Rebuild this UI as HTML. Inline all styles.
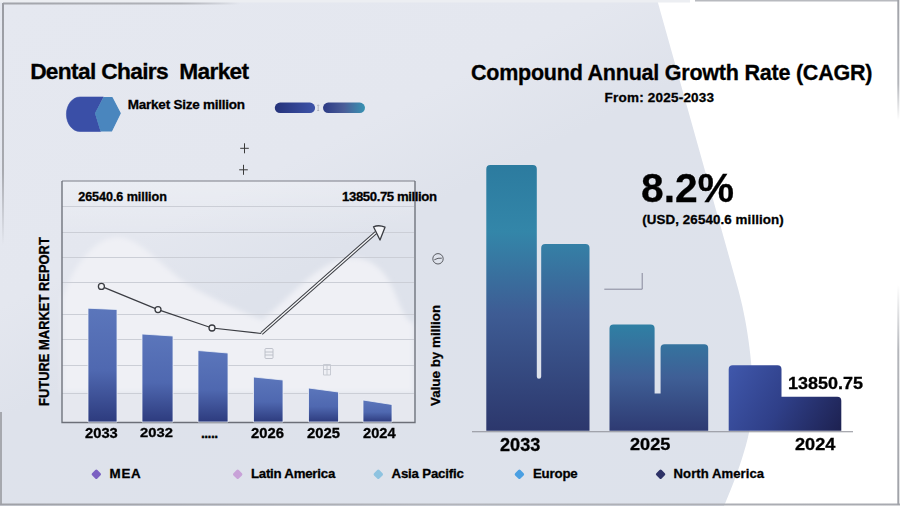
<!DOCTYPE html>
<html><head><meta charset="utf-8">
<style>
html,body{margin:0;padding:0;}
body{width:900px;height:506px;overflow:hidden;position:relative;background:linear-gradient(153.4deg,#e5e8f0 0%,#e4e7ef 32%,#dee2eb 44%,#dde2eb 100%);font-family:"Liberation Sans",sans-serif;color:#000;}
.t{position:absolute;white-space:nowrap;font-weight:bold;line-height:1;transform-origin:0 0;-webkit-text-stroke:0.3px #000;}
svg{position:absolute;left:0;top:0;}
</style></head>
<body>
<svg width="900" height="506" viewBox="0 0 900 506">
  <defs>
    <linearGradient id="topfade" x1="0" y1="0" x2="0" y2="1"><stop offset="0" stop-color="#fff" stop-opacity="0.25"/><stop offset="1" stop-color="#fff" stop-opacity="0"/></linearGradient>
    <filter id="bl" x="-5%" y="-5%" width="110%" height="110%"><feGaussianBlur stdDeviation="2.5"/></filter>
    <linearGradient id="lb" x1="0" y1="0" x2="0" y2="1">
      <stop offset="0" stop-color="#5b76bb"/>
      <stop offset="0.55" stop-color="#4f68b0"/>
      <stop offset="1" stop-color="#2d3b7e"/>
    </linearGradient>
    <linearGradient id="rb1" gradientUnits="userSpaceOnUse" x1="0" y1="165" x2="0" y2="431">
      <stop offset="0" stop-color="#2c7b9f"/>
      <stop offset="0.25" stop-color="#3386a9"/>
      <stop offset="0.56" stop-color="#3e5c94"/>
      <stop offset="1" stop-color="#2c376c"/>
    </linearGradient>
    <linearGradient id="rb2" gradientUnits="userSpaceOnUse" x1="0" y1="324" x2="0" y2="431">
      <stop offset="0" stop-color="#2f80a4"/>
      <stop offset="0.5" stop-color="#3f5f96"/>
      <stop offset="1" stop-color="#2e3a72"/>
    </linearGradient>
    <linearGradient id="rb3" gradientUnits="userSpaceOnUse" x1="729" y1="365" x2="841" y2="431">
      <stop offset="0" stop-color="#4058ac"/>
      <stop offset="0.5" stop-color="#2f3f88"/>
      <stop offset="1" stop-color="#1d2150"/>
    </linearGradient>
    <linearGradient id="p1" x1="0" y1="0" x2="1" y2="0">
      <stop offset="0" stop-color="#25327a"/>
      <stop offset="1" stop-color="#3d53a8"/>
    </linearGradient>
    <linearGradient id="p2" x1="0" y1="0" x2="1" y2="0">
      <stop offset="0" stop-color="#2c3a84"/>
      <stop offset="0.5" stop-color="#4a5d98"/>
      <stop offset="1" stop-color="#3793b2"/>
    </linearGradient>
  </defs>
  <!-- white right region -->
  <path d="M657.2,0 L738.4,290 C746,318 753,360 753,400 C753,425 744,460 724,506 L900,506 L900,0 Z" fill="#ffffff"/>
  <!-- chart box interior: light blob -->
  <path filter="url(#bl)" d="M62,300 C70,272 92,238 117,237 C142,237 165,272 195,289 C218,301 242,312 262,320 C288,300 312,268 340,260 C365,253 385,265 397,298 C403,314 408,322 414,324 L414,393 L62,393 Z" fill="#eff0f5"/>
  <rect x="62" y="393" width="352" height="29" fill="#e6e8ef"/>
  <rect x="62" y="181" width="353" height="60" fill="url(#topfade)"/>
  <!-- gridlines -->
  <g stroke="#cbced6" stroke-width="1">
    <line x1="62" y1="206.5" x2="414" y2="206.5"/>
    <line x1="62" y1="232.5" x2="414" y2="232.5"/>
    <line x1="62" y1="257.5" x2="414" y2="257.5"/>
    <line x1="62" y1="282.5" x2="414" y2="282.5"/>
    <line x1="62" y1="314.5" x2="414" y2="314.5"/>
    <line x1="62" y1="339.5" x2="414" y2="339.5"/>
    <line x1="62" y1="365.5" x2="414" y2="365.5"/>
    <line x1="62" y1="393.5" x2="414" y2="393.5"/>
  </g>
  <!-- chart box -->
  <path d="M62,181 L415,181" stroke="#7c7f87" stroke-width="1.1" fill="none"/>
  <path d="M62,181 L62,422.5 L415,422.5 L415,181" stroke="#6c6f78" stroke-width="1.35" fill="none"/>
  <!-- left bars -->
  <g fill="url(#lb)" stroke="#eef1f8" stroke-width="0.8">
    <path d="M88,308.2 L117,309.5 L117,422 L88,422 Z"/>
    <path d="M142,334 L173,336 L173,422 L142,422 Z"/>
    <path d="M198,350.5 L228,353 L228,422 L198,422 Z"/>
    <path d="M253.5,377 L283,380 L283,422 L253.5,422 Z"/>
    <path d="M308.5,388 L338.5,392 L338.5,422 L308.5,422 Z"/>
    <path d="M363,400 L392,404.5 L392,422 L363,422 Z"/>
  </g>
  <!-- faint icons -->
  <g stroke="#b9bcc6" stroke-width="0.9" fill="none">
    <rect x="265" y="348.5" width="8" height="10" rx="1"/>
    <line x1="265" y1="352" x2="273" y2="352"/>
    <line x1="265" y1="355" x2="273" y2="355"/>
    <path d="M323.5,364.5 L330.5,364.5 L330.5,375 L323.5,375 Z M323.5,369.5 L330.5,369.5 M327,364.5 L327,375" stroke="#c3c6cf"/>
  </g>
  <!-- line -->
  <polyline points="101.4,286.4 158,309.6 212,328 261,333.5" fill="none" stroke="#3a3c42" stroke-width="1.2"/>
  <g fill="#f4f5f8" stroke="#3a3c42" stroke-width="1.3">
    <circle cx="101.4" cy="286.4" r="3"/>
    <circle cx="158" cy="309.6" r="3"/>
    <circle cx="212" cy="328" r="3"/>
  </g>
  <!-- arrow double line -->
  <line x1="261.5" y1="333.5" x2="376" y2="232.5" stroke="#3a3c42" stroke-width="3.4"/>
  <line x1="261.5" y1="333.5" x2="376" y2="232.5" stroke="#f6f7f9" stroke-width="1.4"/>
  <path d="M373.5,226.8 Q379,224.5 385,227.2 L380,240 Z" fill="#f4f5f8" stroke="#3a3c42" stroke-width="1.3" stroke-linejoin="round"/>
  <!-- plus signs -->
  <g stroke="#3a3a3a" stroke-width="1">
    <line x1="240.2" y1="148.3" x2="248.8" y2="148.3"/>
    <line x1="244.5" y1="143.3" x2="244.5" y2="153.3"/>
    <line x1="239.2" y1="169.8" x2="247.8" y2="169.8"/>
    <line x1="243.5" y1="164.8" x2="243.5" y2="174.8"/>
  </g>
  <!-- circle icon -->
  <circle cx="438" cy="258.8" r="5.2" fill="none" stroke="#5a5c62" stroke-width="1"/>
  <path d="M434.3,259.8 Q438,257.6 441.8,258.2" fill="none" stroke="#5a5c62" stroke-width="1"/>
  <!-- market size icon -->
  <path d="M80,97 L103.5,97 L95.1,113.2 L100.6,131.5 L80,131.5 C72.5,131.5 66.4,123.75 66.4,114.25 C66.4,104.75 72.5,97 80,97 Z" fill="#3a4fa7" stroke="#3a4fa7" stroke-width="0.6" stroke-linejoin="round"/>
  <path d="M104,97.6 L112,97.6 L120.2,113.2 L111.5,130.9 L101,130.9 L95.6,113.2 Z" fill="#4a86be" stroke="#4a86be" stroke-width="1.2" stroke-linejoin="round"/>
  <!-- pills -->
  <rect x="274.8" y="102.6" width="40.3" height="10.5" rx="5.25" fill="url(#p1)"/>
  <rect x="323" y="102.6" width="42" height="10.5" rx="5.25" fill="url(#p2)"/>
  <path d="M318.2,104.8 L318.2,111 M317.2,105.8 L318.2,104.8 L319.2,105.8 M317.2,110 L318.2,111 L319.2,110" stroke="#9a9caa" stroke-width="0.6" fill="none"/>
  <!-- right bars -->
  <path d="M486.3,430.8 L486.3,169 Q486.3,165 490.3,165 L532.8,165 Q536.8,165 536.8,169 L536.8,376.5 A2.2,2.2 0 0 0 541.2,376.5 L541.2,248 Q541.2,244 545.2,244 L585.5,244 Q589.5,244 589.5,248 L589.5,430.8 Z" fill="url(#rb1)"/>
  <path d="M609.5,430.8 L609.5,328.5 Q609.5,324.5 613.5,324.5 L650.6,324.5 Q654.6,324.5 654.6,328.5 L654.6,393.5 L660.6,393.5 L660.6,348.3 Q660.6,344.3 664.6,344.3 L704.2,344.3 Q708.2,344.3 708.2,348.3 L708.2,430.8 Z" fill="url(#rb2)"/>
  <path d="M728.7,430.8 L728.7,369.2 Q728.7,365.2 732.7,365.2 L777.5,365.2 Q781.5,365.2 781.5,369.2 L781.5,396.7 L837.3,396.7 Q841.3,396.7 841.3,400.7 L841.3,430.8 Z" fill="url(#rb3)"/>
  <!-- right axis -->
  <line x1="472" y1="431.8" x2="853" y2="431.8" stroke="#8c8e96" stroke-width="1.1"/>
  <!-- bracket line -->
  <path d="M604.3,289.2 L642.2,289.2 L642.2,273" fill="none" stroke="#86879a" stroke-width="1"/>
  <!-- legend diamonds -->
  <g>
    <rect x="92.6" y="470.5" width="7.5" height="7.5" rx="1.5" transform="rotate(45 96.4 474.2)" fill="#7b60c2"/>
    <rect x="233.9" y="470.6" width="7.5" height="7.5" rx="1.5" transform="rotate(45 237.7 474.4)" fill="#c8a2d8"/>
    <rect x="374.5" y="470.6" width="7.5" height="7.5" rx="1.5" transform="rotate(45 378.3 474.4)" fill="#8ec3e0"/>
    <rect x="515.6" y="470.6" width="7.5" height="7.5" rx="1.5" transform="rotate(45 519.4 474.4)" fill="#4a9fe2"/>
    <rect x="656.8" y="470.5" width="7.5" height="7.5" rx="1.5" transform="rotate(45 660.6 474.3)" fill="#2e3267"/>
  </g>
  <!-- frame -->
  <defs>
    <linearGradient id="ft" gradientUnits="userSpaceOnUse" x1="3" y1="0" x2="240" y2="0"><stop offset="0" stop-color="#a2a4aa"/><stop offset="0.75" stop-color="#b2b4ba"/><stop offset="1" stop-color="#a4a6ad" stop-opacity="0"/></linearGradient>
    <linearGradient id="fl" gradientUnits="userSpaceOnUse" x1="0" y1="3" x2="0" y2="245"><stop offset="0" stop-color="#9a9ca3"/><stop offset="0.7" stop-color="#a8aab0"/><stop offset="1" stop-color="#a8aab0" stop-opacity="0"/></linearGradient>
    <linearGradient id="fr1" gradientUnits="userSpaceOnUse" x1="0" y1="0" x2="0" y2="120"><stop offset="0" stop-color="#a0a2a8"/><stop offset="0.7" stop-color="#b4b6bb"/><stop offset="1" stop-color="#b4b6bb" stop-opacity="0"/></linearGradient>
    <linearGradient id="fr2" gradientUnits="userSpaceOnUse" x1="0" y1="285" x2="0" y2="504"><stop offset="0" stop-color="#b4b6bb" stop-opacity="0"/><stop offset="0.3" stop-color="#b4b6bb"/><stop offset="1" stop-color="#a0a2a8"/></linearGradient>
    <linearGradient id="fb" gradientUnits="userSpaceOnUse" x1="0" y1="0" x2="900" y2="0"><stop offset="0" stop-color="#9fa1a7"/><stop offset="0.5" stop-color="#b3b5bb"/><stop offset="1" stop-color="#a8aab0"/></linearGradient>
  </defs>
  <rect x="0" y="0" width="690" height="2.5" fill="#eceef2"/>
  <line x1="3" y1="3.5" x2="240" y2="3.5" stroke="url(#ft)" stroke-width="1.8"/>
  <line x1="3" y1="3" x2="3" y2="245" stroke="url(#fl)" stroke-width="2"/>
  <line x1="1" y1="412" x2="1" y2="505" stroke="#a6a8ae" stroke-width="2"/>
  <line x1="0" y1="504.5" x2="900" y2="504.5" stroke="url(#fb)" stroke-width="2"/>
  <line x1="695" y1="0.8" x2="898" y2="0.8" stroke="#b8babf" stroke-width="1.6"/>
  <line x1="898.3" y1="0" x2="898.3" y2="120" stroke="url(#fr1)" stroke-width="2"/>
  <line x1="898.3" y1="285" x2="898.3" y2="505" stroke="url(#fr2)" stroke-width="2"/>
</svg>

<div class="t extra" style="left:36.8px;top:406.3px;font-size:14.5px;transform:rotate(-90deg) scaleX(0.892);">FUTURE MARKET REPORT</div>
<div class="t extra" style="left:429px;top:406.3px;font-size:13px;transform:rotate(-90deg) scaleX(1.029);">Value by million</div>

<div class="t" style="left:30.13px;top:59.77px;font-size:22.74px;letter-spacing:-0.673px;transform:scaleX(1.0000);">Dental Chairs&nbsp; Market</div>
<div class="t" style="left:127.85px;top:98.36px;font-size:13.51px;letter-spacing:-0.248px;transform:scaleX(1.0000);">Market Size million</div>
<div class="t" style="left:78.21px;top:191.04px;font-size:12.63px;letter-spacing:-0.083px;transform:scaleX(1.0000);">26540.6 million</div>
<div class="t" style="left:342.06px;top:189.95px;font-size:13.18px;letter-spacing:-0.405px;transform:scaleX(1.0000);">13850.75 million</div>
<div class="t" style="left:85.15px;top:427.14px;font-size:13.76px;letter-spacing:0.000px;transform:scaleX(1.0717);">2033</div>
<div class="t" style="left:140.32px;top:426.15px;font-size:13.65px;letter-spacing:0.000px;transform:scaleX(1.0821);">2032</div>
<div class="t" style="left:200.88px;top:426.14px;font-size:14.05px;letter-spacing:-0.561px;transform:scaleX(1.0000);">.....</div>
<div class="t" style="left:251.27px;top:427.14px;font-size:13.76px;letter-spacing:0.000px;transform:scaleX(1.0743);">2026</div>
<div class="t" style="left:307.15px;top:427.14px;font-size:13.76px;letter-spacing:0.000px;transform:scaleX(1.0745);">2025</div>
<div class="t" style="left:362.61px;top:427.13px;font-size:13.76px;letter-spacing:0.000px;transform:scaleX(1.0629);">2024</div>
<div class="t" style="left:470.94px;top:62.66px;font-size:21.53px;letter-spacing:-0.232px;transform:scaleX(1.0000);">Compound Annual Growth Rate (CAGR)</div>
<div class="t" style="left:604.59px;top:91.36px;font-size:13.49px;letter-spacing:0.215px;transform:scaleX(1.0000);">From: 2025-2033</div>
<div class="t" style="left:641.27px;top:168.78px;font-size:39.72px;letter-spacing:0.000px;transform:scaleX(1.0272);">8.2%</div>
<div class="t" style="left:642.18px;top:213.34px;font-size:13.36px;letter-spacing:0.096px;transform:scaleX(1.0000);">(USD, 26540.6 million)</div>
<div class="t" style="left:788.11px;top:376.26px;font-size:15.74px;letter-spacing:0.000px;transform:scaleX(1.1416);">13850.75</div>
<div class="t" style="left:500.00px;top:436.95px;font-size:17.44px;letter-spacing:0.000px;transform:scaleX(1.0380);">2033</div>
<div class="t" style="left:630.07px;top:436.76px;font-size:16.90px;letter-spacing:0.000px;transform:scaleX(1.0726);">2025</div>
<div class="t" style="left:794.64px;top:436.96px;font-size:16.76px;letter-spacing:0.000px;transform:scaleX(1.0855);">2024</div>
<div class="t" style="left:109.59px;top:466.54px;font-size:13.36px;letter-spacing:0.720px;transform:scaleX(1.0000);">MEA</div>
<div class="t" style="left:250.88px;top:466.54px;font-size:13.25px;letter-spacing:-0.230px;transform:scaleX(1.0000);">Latin America</div>
<div class="t" style="left:391.54px;top:466.54px;font-size:13.23px;letter-spacing:-0.172px;transform:scaleX(1.0000);">Asia Pacific</div>
<div class="t" style="left:532.88px;top:466.54px;font-size:13.25px;letter-spacing:-0.161px;transform:scaleX(1.0000);">Europe</div>
<div class="t" style="left:673.57px;top:466.95px;font-size:13.09px;letter-spacing:0.073px;transform:scaleX(1.0000);">North America</div>
</body></html>
